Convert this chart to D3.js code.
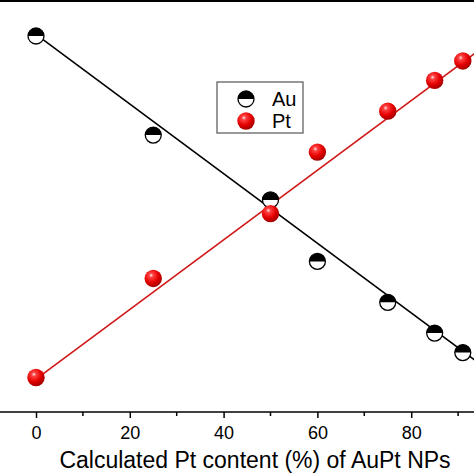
<!DOCTYPE html>
<meta charset="utf-8">
<style>
    body { margin: 0; background: #fff; }
    svg { display: block; font-family: "Liberation Sans", Arial, sans-serif; }
    .tick text { font-size: 18px; }
    .xlabel { font-size: 23px; }
    .legend text { font-size: 20px; }
</style>
<svg width="474" height="474"></svg>
<script src="https://d3js.org/d3.v7.min.js"></script>
<script>
    var ptContent = [0, 25, 50, 60, 75, 85, 91];
    var auValues = [100, 71, 52, 34, 22, 13, 7.3];
    var ptValues = [0, 29, 48, 66, 78, 87, 92.7];
    // fitted lines, given by their end points
    var auFit = [[0, 100.5], [100, -1.5]];
    var ptFit = [[0, -0.5], [100, 101.5]];
    var xTicks = [0, 20, 40, 60, 80];
    var xMinor = [10, 30, 50, 70, 90];

    var svg = d3.select("svg"),
        width = +svg.attr("width"),
        height = +svg.attr("height");

    var x = d3.scaleLinear().domain([0, 100]).range([36, 505]);
    var y = d3.scaleLinear().domain([0, 100]).range([377.5, 36]);

    var defs = svg.append("defs");
    var grad = defs.append("radialGradient")
        .attr("id", "ball")
        .attr("cx", "0.38").attr("cy", "0.32").attr("r", "0.7");
    grad.append("stop").attr("offset", "0%").attr("stop-color", "#ffe8e8");
    grad.append("stop").attr("offset", "18%").attr("stop-color", "#ff4040");
    grad.append("stop").attr("offset", "60%").attr("stop-color", "#e40000");
    grad.append("stop").attr("offset", "100%").attr("stop-color", "#a00000");

    var clip = defs.append("clipPath").attr("id", "plot");
    clip.append("rect").attr("x", 0).attr("y", 2).attr("width", width).attr("height", 410);

    // frame top
    svg.append("line")
        .attr("x1", 0).attr("x2", width)
        .attr("y1", 1).attr("y2", 1)
        .attr("stroke", "#000").attr("stroke-width", 2);

    // x axis
    var axis = svg.append("g")
        .attr("transform", "translate(0,412)")
        .call(d3.axisBottom(x).tickValues(xTicks).tickSize(6).tickSizeOuter(0).tickPadding(8));
    axis.select(".domain").remove();
    axis.append("line")
        .attr("x1", 0).attr("x2", width)
        .attr("stroke", "#000").attr("stroke-width", 1.5);
    axis.selectAll(".tick line").attr("stroke-width", 1.5);
    axis.selectAll(".tick text").attr("fill", "#000");
    axis.selectAll(".minor")
        .data(xMinor).enter().append("line")
        .attr("x1", d => x(d)).attr("x2", d => x(d))
        .attr("y1", 0).attr("y2", 4)
        .attr("stroke", "#000").attr("stroke-width", 1.5);

    svg.append("text")
        .attr("class", "xlabel")
        .attr("x", 255).attr("y", 468)
        .attr("text-anchor", "middle")
        .text("Calculated Pt content (%) of AuPt NPs");

    var line = d3.line().x(d => x(d[0])).y(d => y(d[1]));
    var plot = svg.append("g").attr("clip-path", "url(#plot)");

    plot.append("path").datum(auFit)
        .attr("d", line).attr("fill", "none")
        .attr("stroke", "#000").attr("stroke-width", 1.6);
    plot.append("path").datum(ptFit)
        .attr("d", line).attr("fill", "none")
        .attr("stroke", "#d01818").attr("stroke-width", 1.6);

    var r = 8;
    var halfArc = d3.arc().innerRadius(0).outerRadius(r)
        .startAngle(-Math.PI / 2).endAngle(Math.PI / 2);

    function auMarker(g) {
        g.append("circle").attr("r", r).attr("fill", "#fff")
            .attr("stroke", "#000").attr("stroke-width", 1.3);
        g.append("path").attr("d", halfArc).attr("fill", "#000");
    }
    function ptMarker(g) {
        g.append("circle").attr("r", r + 0.7).attr("fill", "url(#ball)");
    }

    plot.selectAll(".au")
        .data(ptContent).enter().append("g")
        .attr("class", "au")
        .attr("transform", (d, i) => "translate(" + x(d) + "," + y(auValues[i]) + ")")
        .each(function () { auMarker(d3.select(this)); });

    plot.selectAll(".pt")
        .data(ptContent).enter().append("g")
        .attr("class", "pt")
        .attr("transform", (d, i) => "translate(" + x(d) + "," + y(ptValues[i]) + ")")
        .each(function () { ptMarker(d3.select(this)); });

    // legend
    var legend = svg.append("g").attr("class", "legend");
    legend.append("rect")
        .attr("x", 217).attr("y", 82).attr("width", 86).attr("height", 51)
        .attr("fill", "#fff").attr("stroke", "#555").attr("stroke-width", 1.2);
    auMarker(legend.append("g").attr("transform", "translate(246,99)"));
    ptMarker(legend.append("g").attr("transform", "translate(246,121)"));
    legend.append("text").attr("x", 272).attr("y", 106).text("Au");
    legend.append("text").attr("x", 272).attr("y", 128).text("Pt");
</script>
